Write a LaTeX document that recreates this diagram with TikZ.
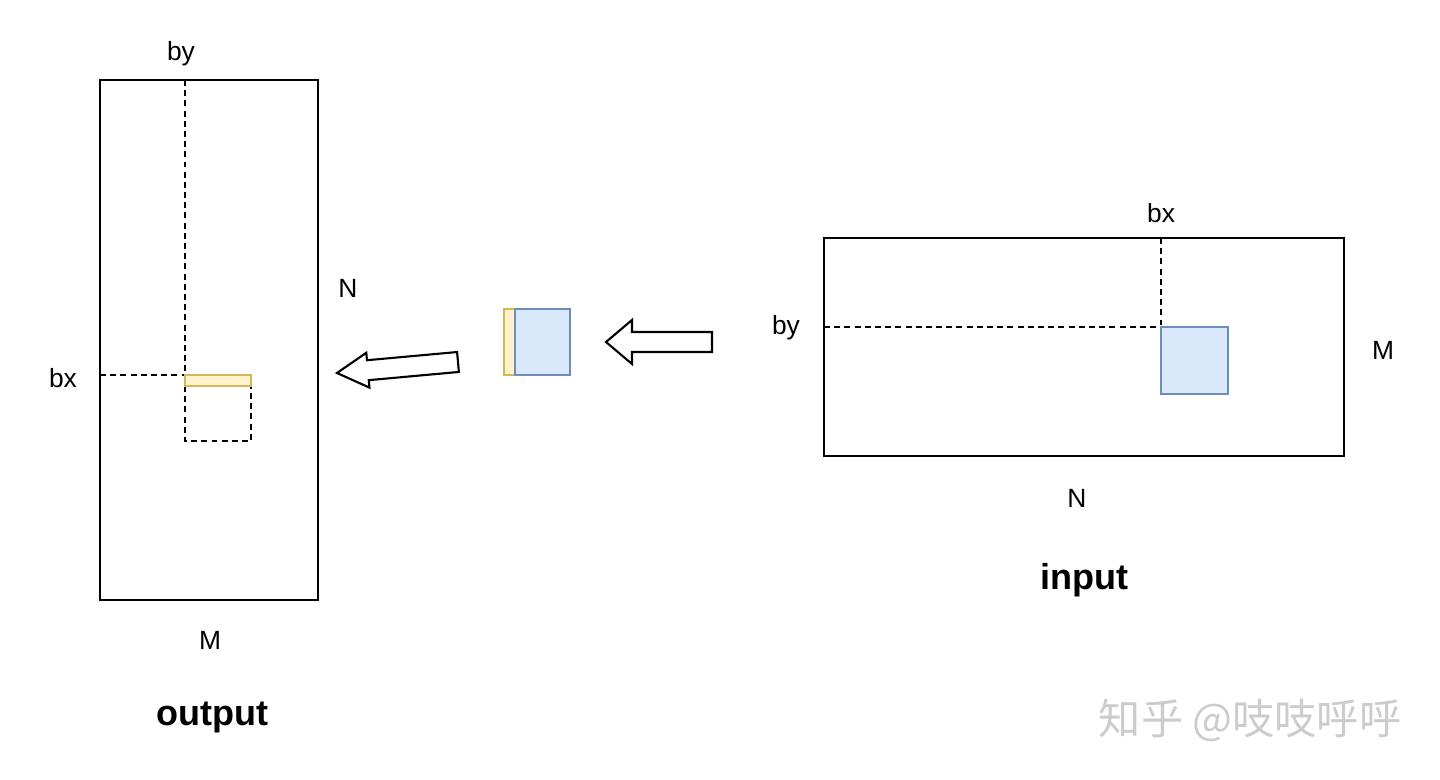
\documentclass[tikz,border=0pt]{standalone}
\usepackage{fontspec}
\setmainfont{Liberation Sans}
\newfontfamily\cjk{Noto Sans CJK SC}
\definecolor{yfill}{HTML}{FFF2CC}
\definecolor{ydraw}{HTML}{D6B656}
\definecolor{bfill}{HTML}{DAE8FC}
\definecolor{bdraw}{HTML}{6C8EBF}
\tikzset{
  lbl/.style={font=\fontsize{15}{18}\selectfont},
  title/.style={font=\fontsize{20.5}{24}\selectfont\bfseries},
  guide/.style={dash pattern=on 3.4pt off 2.4pt, line width=1pt},
  frame/.style={draw, line width=1pt},
  ybox/.style={fill=yfill, draw=ydraw, line width=1pt},
  bbox/.style={fill=bfill, draw=bdraw, line width=1pt},
  blockarrow/.style={draw, line width=1.2pt, fill=white, line join=miter}
}
\begin{document}
\begin{tikzpicture}[x=0.02cm,y=-0.02cm]
            \useasboundingbox (0,0) rectangle (1440,780);
            % output matrix
            \draw[frame] (100,80) rectangle (318,600);
            \coordinate (ot) at (185,80);
            \coordinate (ol) at (100,375);
            \coordinate (oc) at (185,375);
            \draw[guide] (ot)--(oc);
            \draw[guide] (ol)--(oc);
            \draw[guide] (185,386)--(185,441)--(251,441)--(251,386);
            \draw[ybox] (oc) rectangle (251,386);
            \node[lbl] (oby) at (181,54) {by};
            \node[lbl] (obx) at (63,378) {bx};
            \node[lbl] (oN) at (348,288) {N};
            \node[lbl] (oM) at (210,640) {M};
            \node[title] (out) at (212,717) {output};
            % tile in the middle
            \draw[ybox] (504,309) rectangle (515,375);
            \draw[bbox] (515,309) rectangle (570,375);
            % arrows
            \begin{scope}[shift={(337,373)},rotate=5.2]
                \draw[blockarrow] (0,0)--(31,-17.5)--(31,-10)--(121.5,-10)--(121.5,10)--(31,10)--(31,17.5)--cycle;
            \end{scope}
            \draw[blockarrow] (606,342)--(632,320)--(632,332)--(712,332)--(712,352)--(632,352)--(632,364)--cycle;
            % input matrix
            \draw[frame] (824,238) rectangle (1344,456);
            \coordinate (it) at (1161,238);
            \coordinate (il) at (824,327);
            \coordinate (ic) at (1161,327);
            \draw[guide] (it)--(ic);
            \draw[guide] (il)--(ic);
            \draw[bbox] (ic) rectangle (1228,394);
            \node[lbl] (ibx) at (1161,213) {bx};
            \node[lbl] (iby) at (786,328) {by};
            \node[lbl] (iM) at (1383,350) {M};
            \node[lbl] (iN) at (1077,498) {N};
            \node[title] (in) at (1084,580) {input};
            % watermark
            \node[text=black!20, font=\cjk\fontsize{24}{28}\selectfont] (wm) at (1250,720) {知乎 @吱吱呼呼};
\end{tikzpicture}
\end{document}
